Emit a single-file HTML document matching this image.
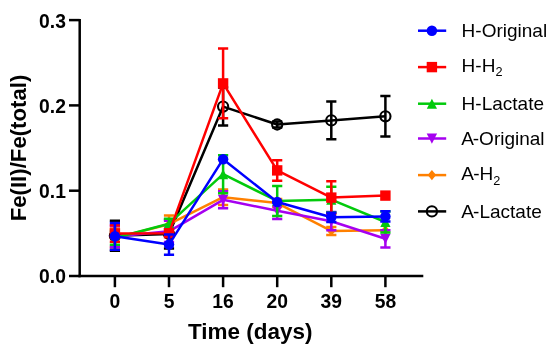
<!DOCTYPE html>
<html><head><meta charset="utf-8"><title>Fe(II)/Fe(total)</title>
<style>
html,body{margin:0;padding:0;background:#fff;}
body{width:550px;height:352px;overflow:hidden;}
svg{display:block;}
text{font-family:"Liberation Sans",sans-serif;fill:#000;}
.tk{font-weight:bold;font-size:19.3px;}
.al{font-weight:bold;font-size:22.2px;}
.lg{font-size:19px;}
</style></head><body>
<svg width="550" height="352" viewBox="0 0 550 352">
<rect width="550" height="352" fill="#fff"/>
<g stroke="#000" stroke-width="2.5" fill="none" stroke-linecap="butt">
<path d="M79.7 18.9V277.2"/>
<path d="M78.5 276.0H423.3"/>
<path d="M69 276.0H79.7"/>
<path d="M69 190.7H79.7"/>
<path d="M69 105.4H79.7"/>
<path d="M69 20.1H79.7"/>
<path d="M114.9 276.0V287.2"/>
<path d="M169.0 276.0V287.2"/>
<path d="M223.1 276.0V287.2"/>
<path d="M277.2 276.0V287.2"/>
<path d="M331.3 276.0V287.2"/>
<path d="M385.4 276.0V287.2"/>
</g>
<g stroke="#000000" stroke-width="2.5" fill="none">
<polyline points="114.9,235.8 169.0,234.0 223.1,106.6 277.2,124.5 331.3,120.4 385.4,116.3" stroke-linejoin="round"/>
<path d="M114.9 220.8V250.8M109.8 220.8H120.0M109.8 250.8H120.0"/>
<path d="M169.0 219.5V248.5M163.9 219.5H174.1M163.9 248.5H174.1"/>
<path d="M223.1 87.6V125.6M218.0 87.6H228.2M218.0 125.6H228.2"/>
<path d="M277.2 121.4V127.6M272.1 121.4H282.3M272.1 127.6H282.3"/>
<path d="M331.3 101.6V139.2M326.2 101.6H336.4M326.2 139.2H336.4"/>
<path d="M385.4 96.1V136.5M380.3 96.1H390.5M380.3 136.5H390.5"/>
</g>
<circle cx="114.9" cy="235.8" r="5.1" fill="none" stroke="#000000" stroke-width="2.1"/>
<circle cx="169.0" cy="234.0" r="5.1" fill="none" stroke="#000000" stroke-width="2.1"/>
<circle cx="223.1" cy="106.6" r="5.1" fill="none" stroke="#000000" stroke-width="2.1"/>
<circle cx="277.2" cy="124.5" r="5.1" fill="none" stroke="#000000" stroke-width="2.1"/>
<circle cx="331.3" cy="120.4" r="5.1" fill="none" stroke="#000000" stroke-width="2.1"/>
<circle cx="385.4" cy="116.3" r="5.1" fill="none" stroke="#000000" stroke-width="2.1"/>
<g stroke="#FF8000" stroke-width="2.5" fill="none">
<polyline points="114.9,238.0 169.0,224.2 223.1,197.2 277.2,203.1 331.3,230.9 385.4,230.2" stroke-linejoin="round"/>
<path d="M114.9 228.5V247.5M109.8 228.5H120.0M109.8 247.5H120.0"/>
<path d="M169.0 215.6V232.8M163.9 215.6H174.1M163.9 232.8H174.1"/>
<path d="M223.1 189.5V204.9M218.0 189.5H228.2M218.0 204.9H228.2"/>
<path d="M277.2 199.1V207.1M272.1 199.1H282.3M272.1 207.1H282.3"/>
<path d="M331.3 226.9V234.9M326.2 226.9H336.4M326.2 234.9H336.4"/>
</g>
<path d="M110.7 238.0L114.9 232.8L119.1 238.0L114.9 243.2Z" fill="#FF8000"/>
<path d="M164.8 224.2L169.0 219.0L173.2 224.2L169.0 229.4Z" fill="#FF8000"/>
<path d="M218.9 197.2L223.1 192.0L227.3 197.2L223.1 202.4Z" fill="#FF8000"/>
<path d="M273.0 203.1L277.2 197.9L281.4 203.1L277.2 208.3Z" fill="#FF8000"/>
<path d="M327.1 230.9L331.3 225.7L335.5 230.9L331.3 236.1Z" fill="#FF8000"/>
<path d="M381.2 230.2L385.4 225.0L389.6 230.2L385.4 235.4Z" fill="#FF8000"/>
<g stroke="#A600F0" stroke-width="2.5" fill="none">
<polyline points="114.9,236.5 169.0,231.3 223.1,199.8 277.2,210.7 331.3,221.2 385.4,238.8" stroke-linejoin="round"/>
<path d="M114.9 226.0V247.0M109.8 226.0H120.0M109.8 247.0H120.0"/>
<path d="M169.0 220.7V241.9M163.9 220.7H174.1M163.9 241.9H174.1"/>
<path d="M223.1 191.3V208.3M218.0 191.3H228.2M218.0 208.3H228.2"/>
<path d="M277.2 202.3V219.1M272.1 202.3H282.3M272.1 219.1H282.3"/>
<path d="M331.3 212.1V230.3M326.2 212.1H336.4M326.2 230.3H336.4"/>
<path d="M385.4 230.2V247.4M380.3 230.2H390.5M380.3 247.4H390.5"/>
</g>
<path d="M109.7 231.5L120.1 231.5L114.9 241.7Z" fill="#A600F0"/>
<path d="M163.8 226.3L174.2 226.3L169.0 236.5Z" fill="#A600F0"/>
<path d="M217.9 194.8L228.3 194.8L223.1 205.0Z" fill="#A600F0"/>
<path d="M272.0 205.7L282.4 205.7L277.2 215.9Z" fill="#A600F0"/>
<path d="M326.1 216.2L336.5 216.2L331.3 226.4Z" fill="#A600F0"/>
<path d="M380.2 233.8L390.6 233.8L385.4 244.0Z" fill="#A600F0"/>
<g stroke="#02CA0C" stroke-width="2.5" fill="none">
<polyline points="114.9,238.0 169.0,223.7 223.1,174.2 277.2,201.0 331.3,199.7 385.4,222.0" stroke-linejoin="round"/>
<path d="M114.9 231.2V244.8M109.8 231.2H120.0M109.8 244.8H120.0"/>
<path d="M169.0 218.7V228.7M163.9 218.7H174.1M163.9 228.7H174.1"/>
<path d="M223.1 155.2V193.2M218.0 155.2H228.2M218.0 193.2H228.2"/>
<path d="M277.2 186.0V216.0M272.1 186.0H282.3M272.1 216.0H282.3"/>
<path d="M331.3 186.8V212.6M326.2 186.8H336.4M326.2 212.6H336.4"/>
<path d="M385.4 211.6V232.4M380.3 211.6H390.5M380.3 232.4H390.5"/>
</g>
<path d="M109.8 243.1L120.0 243.1L114.9 233.1Z" fill="#02CA0C"/>
<path d="M163.9 228.8L174.1 228.8L169.0 218.8Z" fill="#02CA0C"/>
<path d="M218.0 179.3L228.2 179.3L223.1 169.3Z" fill="#02CA0C"/>
<path d="M272.1 206.1L282.3 206.1L277.2 196.1Z" fill="#02CA0C"/>
<path d="M326.2 204.8L336.4 204.8L331.3 194.8Z" fill="#02CA0C"/>
<path d="M380.3 227.1L390.5 227.1L385.4 217.1Z" fill="#02CA0C"/>
<g stroke="#FF0000" stroke-width="2.5" fill="none">
<polyline points="114.9,233.5 169.0,233.2 223.1,83.4 277.2,170.4 331.3,197.6 385.4,195.6" stroke-linejoin="round"/>
<path d="M114.9 225.3V241.7M109.8 225.3H120.0M109.8 241.7H120.0"/>
<path d="M223.1 48.5V118.3M218.0 48.5H228.2M218.0 118.3H228.2"/>
<path d="M277.2 160.2V180.7M272.1 160.2H282.3M272.1 180.7H282.3"/>
<path d="M331.3 181.2V214.0M326.2 181.2H336.4M326.2 214.0H336.4"/>
</g>
<rect x="109.7" y="228.3" width="10.4" height="10.4" fill="#FF0000"/>
<rect x="163.8" y="228.0" width="10.4" height="10.4" fill="#FF0000"/>
<rect x="217.9" y="78.2" width="10.4" height="10.4" fill="#FF0000"/>
<rect x="272.0" y="165.2" width="10.4" height="10.4" fill="#FF0000"/>
<rect x="326.1" y="192.4" width="10.4" height="10.4" fill="#FF0000"/>
<rect x="380.2" y="190.4" width="10.4" height="10.4" fill="#FF0000"/>
<g stroke="#0000FF" stroke-width="2.5" fill="none">
<polyline points="114.9,236.3 169.0,244.6 223.1,159.2 277.2,202.0 331.3,217.3 385.4,216.4" stroke-linejoin="round"/>
<path d="M114.9 222.9V249.7M109.8 222.9H120.0M109.8 249.7H120.0"/>
<path d="M169.0 234.4V254.8M163.9 234.4H174.1M163.9 254.8H174.1"/>
<path d="M331.3 212.7V221.9M326.2 212.7H336.4M326.2 221.9H336.4"/>
<path d="M385.4 211.3V221.5M380.3 211.3H390.5M380.3 221.5H390.5"/>
</g>
<circle cx="114.9" cy="236.3" r="5.25" fill="#0000FF"/>
<circle cx="169.0" cy="244.6" r="5.25" fill="#0000FF"/>
<circle cx="223.1" cy="159.2" r="5.25" fill="#0000FF"/>
<circle cx="277.2" cy="202.0" r="5.25" fill="#0000FF"/>
<circle cx="331.3" cy="217.3" r="5.25" fill="#0000FF"/>
<circle cx="385.4" cy="216.4" r="5.25" fill="#0000FF"/>
<text x="65.9" y="283.4" text-anchor="end" class="tk">0.0</text>
<text x="65.9" y="198.1" text-anchor="end" class="tk">0.1</text>
<text x="65.9" y="112.8" text-anchor="end" class="tk">0.2</text>
<text x="65.9" y="27.5" text-anchor="end" class="tk">0.3</text>
<text x="114.9" y="307.7" text-anchor="middle" class="tk">0</text>
<text x="169.0" y="307.7" text-anchor="middle" class="tk">5</text>
<text x="223.1" y="307.7" text-anchor="middle" class="tk">16</text>
<text x="277.2" y="307.7" text-anchor="middle" class="tk">20</text>
<text x="331.3" y="307.7" text-anchor="middle" class="tk">39</text>
<text x="385.4" y="307.7" text-anchor="middle" class="tk">58</text>
<text x="250.3" y="339" text-anchor="middle" class="al" textLength="124.5" lengthAdjust="spacingAndGlyphs">Time (days)</text>
<text transform="translate(26.3 148.0) rotate(-90)" text-anchor="middle" class="al">Fe(II)/Fe(total)</text>
<path d="M418 30.7H446.2" stroke="#0000FF" stroke-width="2.5"/>
<circle cx="431.9" cy="30.7" r="5.25" fill="#0000FF"/>
<text x="461.6" y="37.3" class="lg">H<tspan dx="0">-Original</tspan></text>
<path d="M418 67.1H446.2" stroke="#FF0000" stroke-width="2.5"/>
<rect x="426.7" y="61.9" width="10.4" height="10.4" fill="#FF0000"/>
<text x="461.6" y="71.7" class="lg">H<tspan dx="0">-H</tspan><tspan dy="4.6" font-size="12.7">2</tspan></text>
<path d="M418 103.7H446.2" stroke="#02CA0C" stroke-width="2.5"/>
<path d="M426.8 108.8L437.0 108.8L431.9 98.8Z" fill="#02CA0C"/>
<text x="461.6" y="110.1" class="lg">H<tspan dx="0">-Lactate</tspan></text>
<path d="M418 138.5H446.2" stroke="#A600F0" stroke-width="2.5"/>
<path d="M426.7 133.5L437.1 133.5L431.9 143.7Z" fill="#A600F0"/>
<text x="461.3" y="145.1" class="lg">A<tspan dx="-1.2">-Original</tspan></text>
<path d="M418 175.1H446.2" stroke="#FF8000" stroke-width="2.5"/>
<path d="M427.7 175.1L431.9 169.9L436.1 175.1L431.9 180.3Z" fill="#FF8000"/>
<text x="461.3" y="180.1" class="lg">A<tspan dx="-0.8">-H</tspan><tspan dy="4.6" font-size="12.7">2</tspan></text>
<path d="M418 211.4H446.2" stroke="#000000" stroke-width="2.5"/>
<circle cx="431.9" cy="211.4" r="5.1" fill="none" stroke="#000000" stroke-width="2.1"/>
<text x="461.3" y="218.3" class="lg">A<tspan dx="-0.9">-Lactate</tspan></text>
</svg>
</body></html>
